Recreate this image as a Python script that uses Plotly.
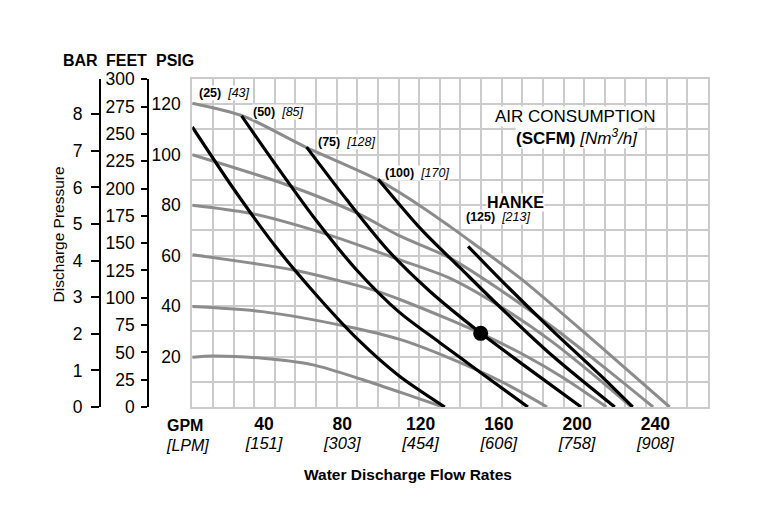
import plotly.graph_objects as go

# ---------------- data (GPM, PSIG) ----------------
# gray lines: discharge pressure vs flow for different air inlet pressures
GRAY_A_X = [0, 25, 55, 90, 110, 125, 136, 160, 196, 231.4]
GRAY_A_Y = [120.4, 115.2, 103, 90, 80, 71.5, 65, 50.4, 25.3, 0]
GRAY_B_X = [0, 46, 80, 100, 125, 150, 175, 200, 223.4]
GRAY_B_Y = [100, 88, 76.8, 68, 59, 46, 31.5, 15.5, 0]
GRAY_C_X = [0, 28, 63.5, 100, 125, 150, 175, 200, 212.9]
GRAY_C_Y = [80, 76.8, 68.9, 58.5, 51, 39.5, 25.5, 9, 0]
GRAY_D_X = [0, 49, 87.6, 100.6, 125, 139.8, 160, 180, 200.8]
GRAY_D_Y = [60.3, 54.3, 46.4, 42.6, 34.5, 29.2, 21, 11.5, 0]
GRAY_E_X = [0, 34, 75, 100.6, 125, 150, 172]
GRAY_E_Y = [39.8, 37.8, 31.9, 26.8, 19.3, 10, 0]
GRAY_F_X = [0, 10, 34, 58.6, 83, 107, 121.6]
GRAY_F_Y = [19.7, 20.2, 19.3, 16.7, 10.7, 4.1, 0]

# black lines: air consumption (SCFM)
AIR25_X = [0, 20, 40, 60, 80, 100, 122.4]
AIR25_Y = [111, 86.5, 64, 44.5, 27, 12.5, 0]
AIR50_X = [23.9, 40, 60, 80, 100, 120, 140, 162.7]
AIR50_Y = [115.4, 96.5, 74, 54, 37.8, 25.5, 13.5, 0]
AIR75_X = [55.4, 75, 95, 115, 140, 160, 188.5]
AIR75_Y = [103, 82, 62, 46, 29.2, 17, 0]
AIR100_X = [90.1, 111.1, 130, 152, 175, 204.8]
AIR100_Y = [90.3, 70.3, 55, 37.4, 20, 0]
AIR125_X = [133.7, 150, 175, 197.4, 213.5]
AIR125_Y = [63.7, 50, 30, 12.9, 0]

DUTY_X = [139.8]
DUTY_Y = [29.2]

AIR_LABELS = ["(25)", "(50)", "(75)", "(100)", "(125)"]
AIR_NM3 = ["[43]", "[85]", "[128]", "[170]", "[213]"]
AIR_LABEL_X = [2.8, 28.8, 60.3, 92.9, 132.1]
AIR_LABEL_Y = [124.5, 117.0, 105.2, 92.6, 75.2]

GPM_TICKS = [40, 80, 120, 160, 200, 240]
LPM_TEXT = ["[151]", "[303]", "[454]", "[606]", "[758]", "[908]"]
PSIG_TICKS = [20, 40, 60, 80, 100, 120]
FEET_TICKS = list(range(0, 301, 25))
BAR_TICKS = list(range(0, 9))

FONT = "Liberation Sans, Arial, sans-serif"
GRAY = "#8c8c8c"
GRID = "#cbcbcb"

W, H = 768, 517
ML, MR, MT, MB = 0, 60, 79, 110
PW = W - ML - MR
PH = H - MT - MB
X0 = 192.3 / PW

fig = go.Figure()

for xs, ys in [(GRAY_A_X, GRAY_A_Y), (GRAY_B_X, GRAY_B_Y), (GRAY_C_X, GRAY_C_Y),
               (GRAY_D_X, GRAY_D_Y), (GRAY_E_X, GRAY_E_Y), (GRAY_F_X, GRAY_F_Y)]:
    fig.add_trace(go.Scatter(x=xs, y=ys, mode="lines",
                             line=dict(color=GRAY, width=3, shape="spline", smoothing=0.8),
                             showlegend=False, hoverinfo="skip"))
for xs, ys in [(AIR25_X, AIR25_Y), (AIR50_X, AIR50_Y), (AIR75_X, AIR75_Y),
               (AIR100_X, AIR100_Y), (AIR125_X, AIR125_Y)]:
    fig.add_trace(go.Scatter(x=xs, y=ys, mode="lines",
                             line=dict(color="black", width=3.2, shape="spline", smoothing=0.8),
                             showlegend=False, hoverinfo="skip"))
fig.add_trace(go.Scatter(x=DUTY_X, y=DUTY_Y, mode="markers", marker=dict(color="black", size=15),
                         showlegend=False, hoverinfo="skip"))

# invisible traces to attach the extra axes
fig.add_trace(go.Scatter(x=[None], y=[None], xaxis="x2", yaxis="y", showlegend=False))
fig.add_trace(go.Scatter(x=[None], y=[None], xaxis="x3", yaxis="y", showlegend=False))
fig.add_trace(go.Scatter(x=[None], y=[None], xaxis="x", yaxis="y2", showlegend=False))
fig.add_trace(go.Scatter(x=[None], y=[None], xaxis="x", yaxis="y3", showlegend=False))

PSI_MAX = 130
FT_PER_PSI = 2.31
PSI_PER_BAR = 14.5038

fig.update_layout(
    width=W, height=H,
    margin=dict(l=ML, r=MR, t=MT, b=MB),
    paper_bgcolor="white", plot_bgcolor="white",
    font=dict(family=FONT, color="black", size=17),
    xaxis=dict(domain=[X0, 1], range=[0, 250], dtick=10, tick0=0, showticklabels=False,
               ticks="", showgrid=True, gridcolor=GRID, gridwidth=2, zeroline=False,
               showline=True, linecolor=GRID, linewidth=2, mirror=True),
    xaxis2=dict(domain=[X0, 1], overlaying="x", anchor="y", side="bottom", range=[3.37, 266.9],
                tickvals=GPM_TICKS, ticktext=["<b>%d</b>" % v for v in GPM_TICKS],
                showgrid=False, zeroline=False, ticks="", ticklabelstandoff=4,
                tickfont=dict(size=17.5, family=FONT)),
    xaxis3=dict(domain=[X0, 1], overlaying="x", anchor="y", side="bottom", range=[3.37, 266.9],
                tickvals=GPM_TICKS, ticktext=["<i>%s</i>" % t for t in LPM_TEXT],
                showgrid=False, zeroline=False, ticks="", ticklabelstandoff=24,
                tickfont=dict(size=16.5, family=FONT)),
    yaxis=dict(range=[0, PSI_MAX], tickvals=PSIG_TICKS,
               showgrid=True, gridcolor=GRID, gridwidth=2, zeroline=False, ticks="",
               minor=dict(dtick=10, tick0=0, showgrid=True, gridcolor=GRID, gridwidth=2, ticks=""),
               showline=True, linecolor=GRID, linewidth=2, mirror=True, ticklabelstandoff=6,
               tickfont=dict(size=17.5, family=FONT)),
    yaxis2=dict(range=[0, PSI_MAX * FT_PER_PSI], overlaying="y", anchor="free", side="left",
                position=148.3 / PW, tickvals=FEET_TICKS, showgrid=False, zeroline=False,
                showline=True, linecolor="black", linewidth=2, ticks="outside", ticklen=6,
                tickwidth=2, tickcolor="black", ticklabelstandoff=3, tickfont=dict(size=17.5, family=FONT)),
    yaxis3=dict(range=[0, PSI_MAX / PSI_PER_BAR], overlaying="y", anchor="free", side="left",
                position=100 / PW, tickvals=BAR_TICKS, showgrid=False, zeroline=False,
                showline=True, linecolor="black", linewidth=2, ticks="outside", ticklen=8,
                tickwidth=2, tickcolor="black", ticklabelstandoff=5, tickfont=dict(size=17.5, family=FONT)),
)


def px2paper(px, py):
    return (px - ML) / PW, (H - MB - py) / PH


ann = []
for txt, cx in [("BAR", 80), ("FEET", 126), ("PSIG", 174.5)]:
    x, y = px2paper(cx, 61)
    ann.append(dict(text="<b>%s</b>" % txt, x=x, y=y, xref="paper", yref="paper", showarrow=False,
                    xanchor="center", yanchor="middle", font=dict(size=16)))
x, y = px2paper(57.5, 235)
ann.append(dict(text="Discharge Pressure", x=x, y=y, xref="paper", yref="paper", showarrow=False,
                textangle=-90, xanchor="center", yanchor="middle", font=dict(size=15.5)))
x, y = px2paper(165, 425)
ann.append(dict(text="<b>GPM</b>", x=x, y=y, xref="paper", yref="paper", showarrow=False,
                xanchor="left", yanchor="middle", font=dict(size=16)))
x, y = px2paper(164, 445)
ann.append(dict(text="<i>[LPM]</i>", x=x, y=y, xref="paper", yref="paper", showarrow=False,
                xanchor="left", yanchor="middle", font=dict(size=16)))
x, y = px2paper(408, 474)
ann.append(dict(text="<b>Water Discharge Flow Rates</b>", x=x, y=y, xref="paper", yref="paper",
                showarrow=False, xanchor="center", yanchor="middle", font=dict(size=15.5)))

for lab, nm, lx, ly in zip(AIR_LABELS, AIR_NM3, AIR_LABEL_X, AIR_LABEL_Y):
    ann.append(dict(text="<b>%s</b>&nbsp;&nbsp;<i>%s</i>" % (lab, nm), x=lx, y=ly, xref="x", yref="y",
                    showarrow=False, xanchor="left", yanchor="middle", font=dict(size=12.5),
                    bgcolor="white", borderpad=0))
ann.append(dict(text="<b>HANKE</b>", x=156.5, y=81.0, xref="x", yref="y", showarrow=False,
                xanchor="center", yanchor="middle", font=dict(size=16), bgcolor="white", borderpad=0))
ann.append(dict(text="AIR CONSUMPTION", x=185.9, y=115.1, xref="x", yref="y", showarrow=False,
                xanchor="center", yanchor="middle", font=dict(size=17), bgcolor="white", borderpad=0))
ann.append(dict(text="<b>(SCFM)</b> <i>[Nm<sup>3</sup>/h]</i>", x=186.4, y=107.1, xref="x", yref="y",
                showarrow=False, xanchor="center", yanchor="middle", font=dict(size=17),
                bgcolor="white", borderpad=0))
fig.update_layout(annotations=ann)

fig.write_html("out.html")
